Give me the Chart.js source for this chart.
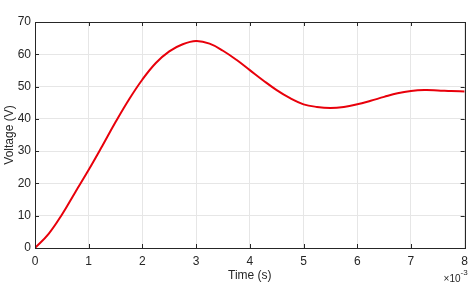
<!DOCTYPE html>
<html>
<head>
<meta charset="utf-8">
<script src="https://cdn.jsdelivr.net/npm/chart.js@4/dist/chart.umd.min.js"></script>
<style>
  html, body { margin: 0; padding: 0; background: #ffffff; }
  #wrap { width: 474px; height: 287px; position: relative; }
</style>
</head>
<body>
<div id="wrap"><canvas id="c" width="474" height="287"></canvas></div>
<script>
// Time in milliseconds (axis shows ×10^-3 s)
const timeMs = [0, 0.25, 0.5, 0.75, 1.0, 1.25, 1.5, 1.75, 2.0, 2.25, 2.5, 2.75, 3.0, 3.25, 3.5, 3.75, 4.0, 4.25, 4.5, 4.75, 5.0, 5.25, 5.5, 5.75, 6.0, 6.25, 6.5, 6.75, 7.0, 7.25, 7.5, 7.75, 8.0];
const voltage = [0, 4.3, 10.3, 17.3, 24.2, 31.5, 39.0, 46.0, 52.2, 57.3, 60.9, 63.1, 64.1, 63.3, 61.1, 58.3, 55.1, 51.9, 48.9, 46.4, 44.5, 43.7, 43.4, 43.7, 44.5, 45.6, 46.8, 47.9, 48.6, 48.9, 48.8, 48.6, 48.5];
const xTicks = [0, 1, 2, 3, 4, 5, 6, 7, 8];
const yTicks = [0, 10, 20, 30, 40, 50, 60, 70];
const xLabel = 'Time (s)';
const yLabel = 'Voltage (V)';
const xExponent = '-3';

const TXT = '#262626';
const FONT = '"Liberation Sans", Arial, Helvetica, sans-serif';

const points = timeMs.map((t, i) => ({ x: t, y: voltage[i] }));

const matlabAxes = {
  id: 'matlabAxes',
  afterDraw(chart) {
    const { ctx, chartArea: a, scales: { x, y } } = chart;
    ctx.save();
    ctx.strokeStyle = TXT;
    ctx.lineWidth = 1;
    const tl = 4;
    ctx.beginPath();
    xTicks.forEach(v => {
      const px = Math.round(x.getPixelForValue(v)) + 0.5;
      ctx.moveTo(px, a.bottom); ctx.lineTo(px, a.bottom - tl);
      ctx.moveTo(px, a.top); ctx.lineTo(px, a.top + tl);
    });
    yTicks.forEach(v => {
      const py = Math.round(y.getPixelForValue(v)) + 0.5;
      ctx.moveTo(a.left, py); ctx.lineTo(a.left + tl, py);
      ctx.moveTo(a.right, py); ctx.lineTo(a.right - tl, py);
    });
    ctx.stroke();
    ctx.strokeRect(Math.round(a.left) + 0.5, Math.round(a.top) + 0.5,
                   Math.round(a.right - a.left), Math.round(a.bottom - a.top));
    // exponent label
    ctx.fillStyle = TXT;
    ctx.textBaseline = 'alphabetic';
    ctx.textAlign = 'right';
    ctx.font = '8px ' + FONT;
    const supW = ctx.measureText(xExponent).width;
    const rx = a.right + 3;
    ctx.fillText(xExponent, rx, 275);
    ctx.font = '10px ' + FONT;
    ctx.fillText('\u00d710', rx - supW, 282);
    ctx.restore();
  }
};

new Chart(document.getElementById('c'), {
  type: 'line',
  data: {
    datasets: [{
      data: points,
      borderColor: '#e8000b',
      borderWidth: 2,
      pointRadius: 0,
      tension: 0.4,
      fill: false
    }]
  },
  options: {
    responsive: false,
    animation: false,
    events: [],
    layout: { padding: { top: 22, right: 8, left: 0, bottom: 0 } },
    plugins: { legend: { display: false }, tooltip: { enabled: false } },
    scales: {
      x: {
        type: 'linear',
        min: 0, max: 8,
        afterBuildTicks(s) { s.ticks = xTicks.map(v => ({ value: v })); },
        afterFit(s) { s.height = 39; },
        grid: { color: '#e6e6e6', drawTicks: false },
        border: { display: false },
        ticks: { color: TXT, font: { family: FONT, size: 12 }, padding: 6, maxRotation: 0 },
        title: { display: true, text: xLabel, color: TXT, font: { family: FONT, size: 12 }, padding: { top: 0, bottom: 4 } }
      },
      y: {
        min: 0, max: 70,
        afterBuildTicks(s) { s.ticks = yTicks.map(v => ({ value: v })); },
        afterFit(s) { s.width = 35; },
        grid: { color: '#e6e6e6', drawTicks: false },
        border: { display: false },
        ticks: { color: TXT, font: { family: FONT, size: 12 }, padding: 4 },
        title: { display: true, text: yLabel, color: TXT, font: { family: FONT, size: 12 }, padding: { top: 2, bottom: 0 } }
      }
    }
  },
  plugins: [matlabAxes]
});
</script>
</body>
</html>
